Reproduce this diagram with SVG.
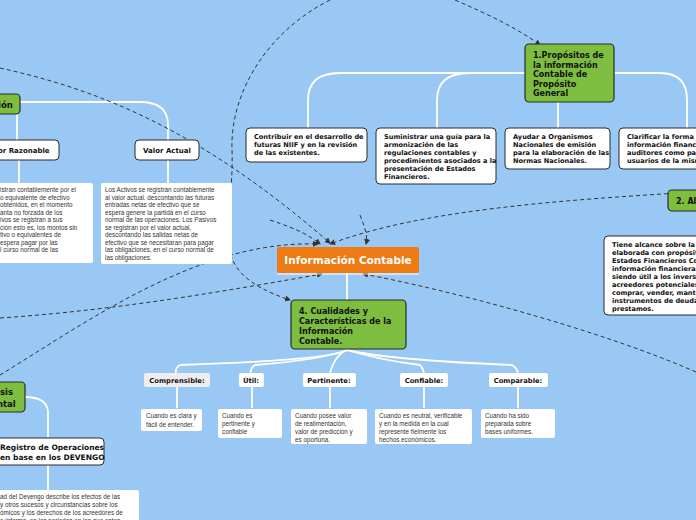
<svg xmlns="http://www.w3.org/2000/svg" width="696" height="520" viewBox="0 0 696 520">
<defs>
<marker id="ah" markerWidth="6" markerHeight="6" refX="5" refY="3" orient="auto"><path d="M0,0 L6,3 L0,6 z" fill="#333"/></marker>
<style>
.g{fill:#7dbd3f;stroke:#2b2b2b;stroke-width:1.2}
.w{fill:#fff;stroke:#2b2b2b;stroke-width:1}
.n{fill:#fff;stroke:none}
.t{font-family:"DejaVu Sans",sans-serif;font-weight:bold;fill:#111}
.s{font-family:"Liberation Sans",sans-serif;font-size:6.3px;fill:#333}
.b{font-family:"DejaVu Sans",sans-serif;font-weight:bold;font-size:6.6px;fill:#111}
.tree{fill:none;stroke:#fff;stroke-width:1.8}
.d{fill:none;stroke:#333;stroke-width:1;stroke-dasharray:4,3;marker-end:url(#ah)}
</style>
</defs>
<rect width="696" height="520" fill="#99c8f4"/>
<g id="connectors">
<path class="tree" d="M525,73 H340 Q308,73 308,100 V128"/>
<path class="tree" d="M525,73 H470 Q437,73 437,100 V128"/>
<path class="tree" d="M558,102 V128"/>
<path class="tree" d="M615,73 H660 Q687,73 687,100 V128"/>
<path class="tree" d="M20,102 H140 Q168,102 168,125 V141"/>
<path class="tree" d="M17,110 V141"/>
<path class="tree" d="M19,160 V183"/>
<path class="tree" d="M168,160 V183"/>
<path class="tree" d="M347,273 V300"/>
<path class="tree" d="M347,350 Q330,360 180,365 Q175,368 176,373"/>
<path class="tree" d="M347,350 Q320,360 255,365 Q250,368 251,373"/>
<path class="tree" d="M347,350 Q335,355 330,373"/>
<path class="tree" d="M347,350 Q380,360 420,365 Q423,368 424,373"/>
<path class="tree" d="M347,350 Q390,360 512,365 Q517,368 518,373"/>
<path class="tree" d="M177,387 V408 M252,387 V408 M330,387 V408 M424,387 V408 M518,387 V408"/>
<path class="tree" d="M25,397 Q47,397 48,412 V437"/>
<path class="tree" d="M48,465 V490"/>
<path class="d" d="M330,0 C270,30 230,90 232,150 C235,230 200,270 290,300"/>
<path class="d" d="M0,68 C100,90 200,130 330,243"/>
<path class="d" d="M455,0 C490,15 520,30 540,45"/>
<path class="d" d="M696,192 C560,200 420,210 330,244"/>
<path class="d" d="M270,220 C300,230 310,236 320,244"/>
<path class="d" d="M0,318 C120,310 230,290 322,274"/>
<path class="d" d="M0,375 C90,320 200,240 318,244"/>
<path class="d" d="M696,372 C600,330 450,290 363,274"/>
<path class="d" d="M360,215 C365,228 368,236 366,244"/>
</g>
<g id="n-main"><rect x="277" y="247" width="142" height="26" fill="#ee7a13" rx="2"/><line x1="277" y1="274" x2="419" y2="274" stroke="#fff" stroke-width="1"/><text x="348" y="264" text-anchor="middle" class="t" style="font-size:10.5px;fill:#fff">Información Contable</text></g>
<g id="n-prop"><rect class="g" x="525" y="44" width="89" height="58" rx="4"/><text class="t" style="font-size:8px"><tspan x="533" y="58">1.Propósitos de</tspan><tspan x="533" y="67.5">la información</tspan><tspan x="533" y="77">Contable de</tspan><tspan x="533" y="86.5">Propósito</tspan><tspan x="533" y="96">General</tspan></text></g>
<g id="n-p1"><rect class="w" x="246" y="128" width="121" height="34" rx="4"/><text class="b"><tspan x="254" y="139">Contribuir en el desarrollo de</tspan><tspan x="254" y="147">futuras NIIF y en la revisión</tspan><tspan x="254" y="155">de las existentes.</tspan></text></g>
<g id="n-p2"><rect class="w" x="376" y="128" width="120" height="56" rx="4"/><text class="b"><tspan x="384" y="139">Suministrar una guía para la</tspan><tspan x="384" y="147">armonización de las</tspan><tspan x="384" y="155">regulaciones contables y</tspan><tspan x="384" y="163">procedimientos asociados a la</tspan><tspan x="384" y="171">presentación de Estados</tspan><tspan x="384" y="179">Financieros.</tspan></text></g>
<g id="n-p3"><rect class="w" x="505" y="128" width="105" height="41" rx="4"/><text class="b"><tspan x="513" y="139">Ayudar a Organismos</tspan><tspan x="513" y="147">Nacionales de emisión</tspan><tspan x="513" y="155">para la elaboración de las</tspan><tspan x="513" y="163">Normas Nacionales.</tspan></text></g>
<g id="n-p4"><rect class="w" x="619" y="128" width="90" height="41" rx="4"/><text class="b"><tspan x="627" y="139">Clarificar la forma de</tspan><tspan x="627" y="147">información financiera</tspan><tspan x="627" y="155">auditores como para</tspan><tspan x="627" y="163">usuarios de la misma</tspan></text></g>
<g id="n-alc"><rect class="g" x="668" y="190" width="40" height="21" rx="4"/><text x="676" y="204" class="t" style="font-size:8px">2. Al</text></g>
<g id="n-alc-t"><rect class="w" x="604" y="236" width="100" height="79" rx="4"/><text class="b"><tspan x="612" y="247">Tiene alcance sobre la In</tspan><tspan x="612" y="255">elaborada con propósito</tspan><tspan x="612" y="263">Estados Financieros Cons</tspan><tspan x="612" y="271">información financiera de</tspan><tspan x="612" y="279">siendo útil a los inversor</tspan><tspan x="612" y="287">acreedores potenciales p</tspan><tspan x="612" y="295">comprar, vender, manter</tspan><tspan x="612" y="303">instrumentos de deuda, p</tspan><tspan x="612" y="311">prestamos.</tspan></text></g>
<g id="n-med"><rect class="g" x="-10" y="94" width="30" height="20" rx="4"/><text x="-2" y="108" class="t" style="font-size:8.5px">ión</text></g>
<g id="n-vr"><rect class="w" x="-10" y="140" width="69" height="20" rx="4"/><text x="-2" y="153" class="t" style="font-size:7px">or Razonable</text></g>
<g id="n-va"><rect class="w" x="135" y="140" width="64" height="20" rx="4"/><text x="167" y="153" text-anchor="middle" class="t" style="font-size:7px">Valor Actual</text></g>
<g id="n-vr-t"><rect class="n" x="-5" y="183" width="98" height="80" rx="2"/><text class="s"><tspan x="0" y="192">istran contablemente por el</tspan><tspan x="0" y="200">o equivalente de efectivo</tspan><tspan x="0" y="207">obtenidos, en el momento</tspan><tspan x="0" y="215">anta no forzada de los</tspan><tspan x="0" y="222">ivos se registran a sus</tspan><tspan x="0" y="230">ción esto es, los montos sin</tspan><tspan x="0" y="237">tivo o equivalentes de</tspan><tspan x="0" y="245">espera pagar por las</tspan><tspan x="0" y="252">l curso normal de las</tspan></text></g>
<g id="n-va-t"><rect class="n" x="101" y="183" width="131" height="81" rx="2"/><text class="s"><tspan x="105" y="192">Los Activos se registran contablemente</tspan><tspan x="105" y="200">al valor actual. descontando las futuras</tspan><tspan x="105" y="207">entradas netas de efectivo que se</tspan><tspan x="105" y="215">espera genere la partida en el curso</tspan><tspan x="105" y="222">normal de las operaciones.  Los Pasivos</tspan><tspan x="105" y="230">se registran por el valor actual,</tspan><tspan x="105" y="237">descontando las salidas netas de</tspan><tspan x="105" y="245">efectivo que se necesitaran para pagar</tspan><tspan x="105" y="252">las obligaciones, en el curso normal de</tspan><tspan x="105" y="260">las obligaciones.</tspan></text></g>
<g id="n-cual"><rect class="g" x="291" y="300" width="115" height="49" rx="4"/><text class="t" style="font-size:8px"><tspan x="299" y="314">4. Cualidades y</tspan><tspan x="299" y="324">Características de la</tspan><tspan x="299" y="334">Información</tspan><tspan x="299" y="344">Contable.</tspan></text></g>
<g id="n-c1"><rect x="144" y="373" width="66" height="14" rx="2" fill="#eee"/><text x="177" y="383" text-anchor="middle" class="t" style="font-size:6.8px">Comprensible:</text></g>
<g id="n-c2"><rect x="239" y="373" width="25" height="14" rx="2" fill="#fff"/><text x="251" y="383" text-anchor="middle" class="t" style="font-size:6.8px">Útil:</text></g>
<g id="n-c3"><rect x="303" y="373" width="53" height="14" rx="2" fill="#fff"/><text x="329" y="383" text-anchor="middle" class="t" style="font-size:6.8px">Pertinente:</text></g>
<g id="n-c4"><rect x="400" y="373" width="48" height="14" rx="2" fill="#fff"/><text x="424" y="383" text-anchor="middle" class="t" style="font-size:6.8px">Confiable:</text></g>
<g id="n-c5"><rect x="489" y="373" width="59" height="14" rx="2" fill="#fff"/><text x="518" y="383" text-anchor="middle" class="t" style="font-size:6.8px">Comparable:</text></g>
<g id="n-d1"><rect class="n" x="141" y="409" width="61" height="22" rx="2"/><text class="s"><tspan x="146" y="418">Cuando es clara y</tspan><tspan x="146" y="427">fácil de entender.</tspan></text></g>
<g id="n-d2"><rect class="n" x="218" y="409" width="64" height="29" rx="2"/><text class="s"><tspan x="222" y="418">Cuando es</tspan><tspan x="222" y="426">pertinente y</tspan><tspan x="222" y="434">confiable</tspan></text></g>
<g id="n-d3"><rect class="n" x="291" y="409" width="76" height="35" rx="2"/><text class="s"><tspan x="295" y="418">Cuando posee valor</tspan><tspan x="295" y="426">de realimentación,</tspan><tspan x="295" y="434">valor de predicción y</tspan><tspan x="295" y="442">es oportuna.</tspan></text></g>
<g id="n-d4"><rect class="n" x="375" y="409" width="97" height="35" rx="2"/><text class="s"><tspan x="379" y="418">Cuando es neutral, verificable</tspan><tspan x="379" y="426">y en la medida en la cual</tspan><tspan x="379" y="434">represente fielmente los</tspan><tspan x="379" y="442">hechos económicos.</tspan></text></g>
<g id="n-d5"><rect class="n" x="481" y="409" width="74" height="29" rx="2"/><text class="s"><tspan x="485" y="418">Cuando ha sido</tspan><tspan x="485" y="426">preparada sobre</tspan><tspan x="485" y="434">bases uniformes.</tspan></text></g>
<g id="n-hip"><rect class="g" x="-10" y="382" width="35" height="30" rx="4"/><text class="t" style="font-size:8.5px"><tspan x="0" y="395">sis</tspan><tspan x="-3" y="407">ntal</tspan></text></g>
<g id="n-dev"><rect class="w" x="-10" y="438" width="114" height="27" rx="4"/><text class="t" style="font-size:7.5px"><tspan x="0" y="450">Registro de Operaciones</tspan><tspan x="0" y="460">en base en los DEVENGO</tspan></text></g>
<g id="n-dev-t"><rect class="n" x="-5" y="490" width="144" height="35" rx="2"/><text class="s"><tspan x="0" y="499">ad del Devengo describe los efectos de las</tspan><tspan x="0" y="507">y otros sucesos y circunstancias sobre los</tspan><tspan x="0" y="515">ómicos y los derechos de los acreedores de</tspan><tspan x="0" y="523">e informa, en los periodos en los que estos</tspan></text></g>
</svg>
